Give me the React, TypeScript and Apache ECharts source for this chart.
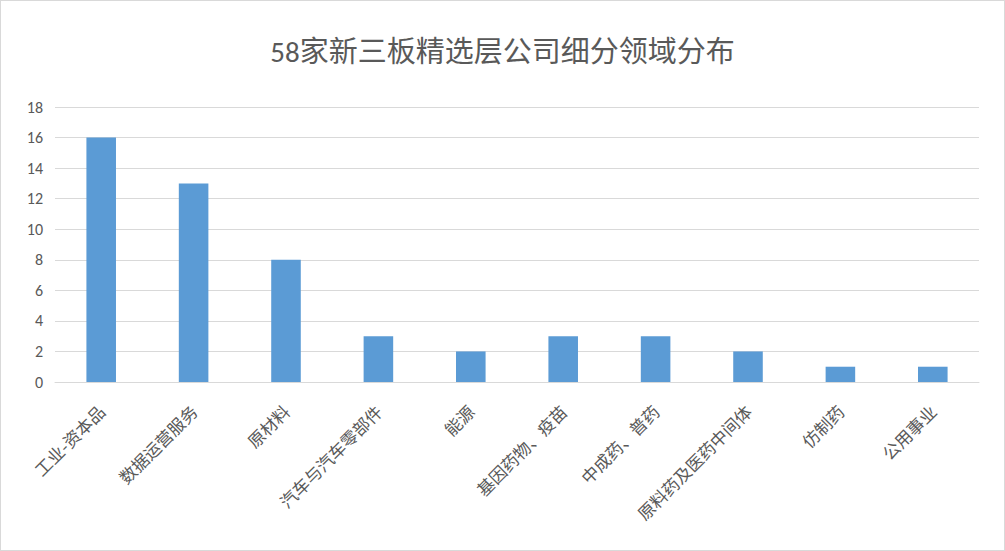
import React, { useEffect, useRef } from "react";
import * as echarts from "echarts";

const titleText = "58家新三板精选层公司细分领域分布";
const categories = [
  "工业-资本品",
  "数据运营服务",
  "原材料",
  "汽车与汽车零部件",
  "能源",
  "基因药物、疫苗",
  "中成药、普药",
  "原料药及医药中间体",
  "仿制药",
  "公用事业",
];
const counts = [16, 13, 8, 3, 2, 3, 3, 2, 1, 1];
const yMin = 0;
const yMax = 18;
const yStep = 2;

export default function App() {
  const ref = useRef<HTMLDivElement>(null);
  useEffect(() => {
    document.body.style.margin = "0";
    if (!ref.current) return;
    const chart = echarts.init(ref.current, undefined, { renderer: "svg" });
    chart.setOption({
      animation: false,
      backgroundColor: "#ffffff",
      title: {
        text: titleText,
        left: "center",
        top: 31,
        textStyle: {
          fontSize: 29,
          fontWeight: "normal",
          color: "#595959",
          fontFamily: "Calibri, 'Noto Sans CJK SC', sans-serif",
        },
      },
      grid: { left: 54, right: 25, top: 106, bottom: 168, containLabel: false },
      xAxis: {
        type: "category",
        data: categories,
        axisLine: { lineStyle: { color: "#d9d9d9", width: 1 } },
        axisTick: { show: false },
        axisLabel: {
          rotate: 45,
          interval: 0,
          fontSize: 17,
          color: "#595959",
          margin: 26,
          fontFamily: "'Noto Sans CJK SC', serif",
        },
      },
      yAxis: {
        type: "value",
        min: yMin,
        max: yMax,
        interval: yStep,
        axisLine: { show: false },
        axisTick: { show: false },
        splitLine: { lineStyle: { color: "#d9d9d9", width: 1 } },
        axisLabel: {
          fontSize: 16,
          color: "#595959",
          margin: 12,
          fontFamily: "Calibri, 'Liberation Sans', sans-serif",
        },
      },
      series: [
        {
          type: "bar",
          data: counts,
          barWidth: "32%",
          itemStyle: { color: "#5b9bd5" },
        },
      ],
    });
    return () => chart.dispose();
  }, []);
  return (
    <div
      ref={ref}
      style={{
        width: 1005,
        height: 551,
        boxSizing: "border-box",
        border: "1px solid #d9d9d9",
      }}
    />
  );
}
